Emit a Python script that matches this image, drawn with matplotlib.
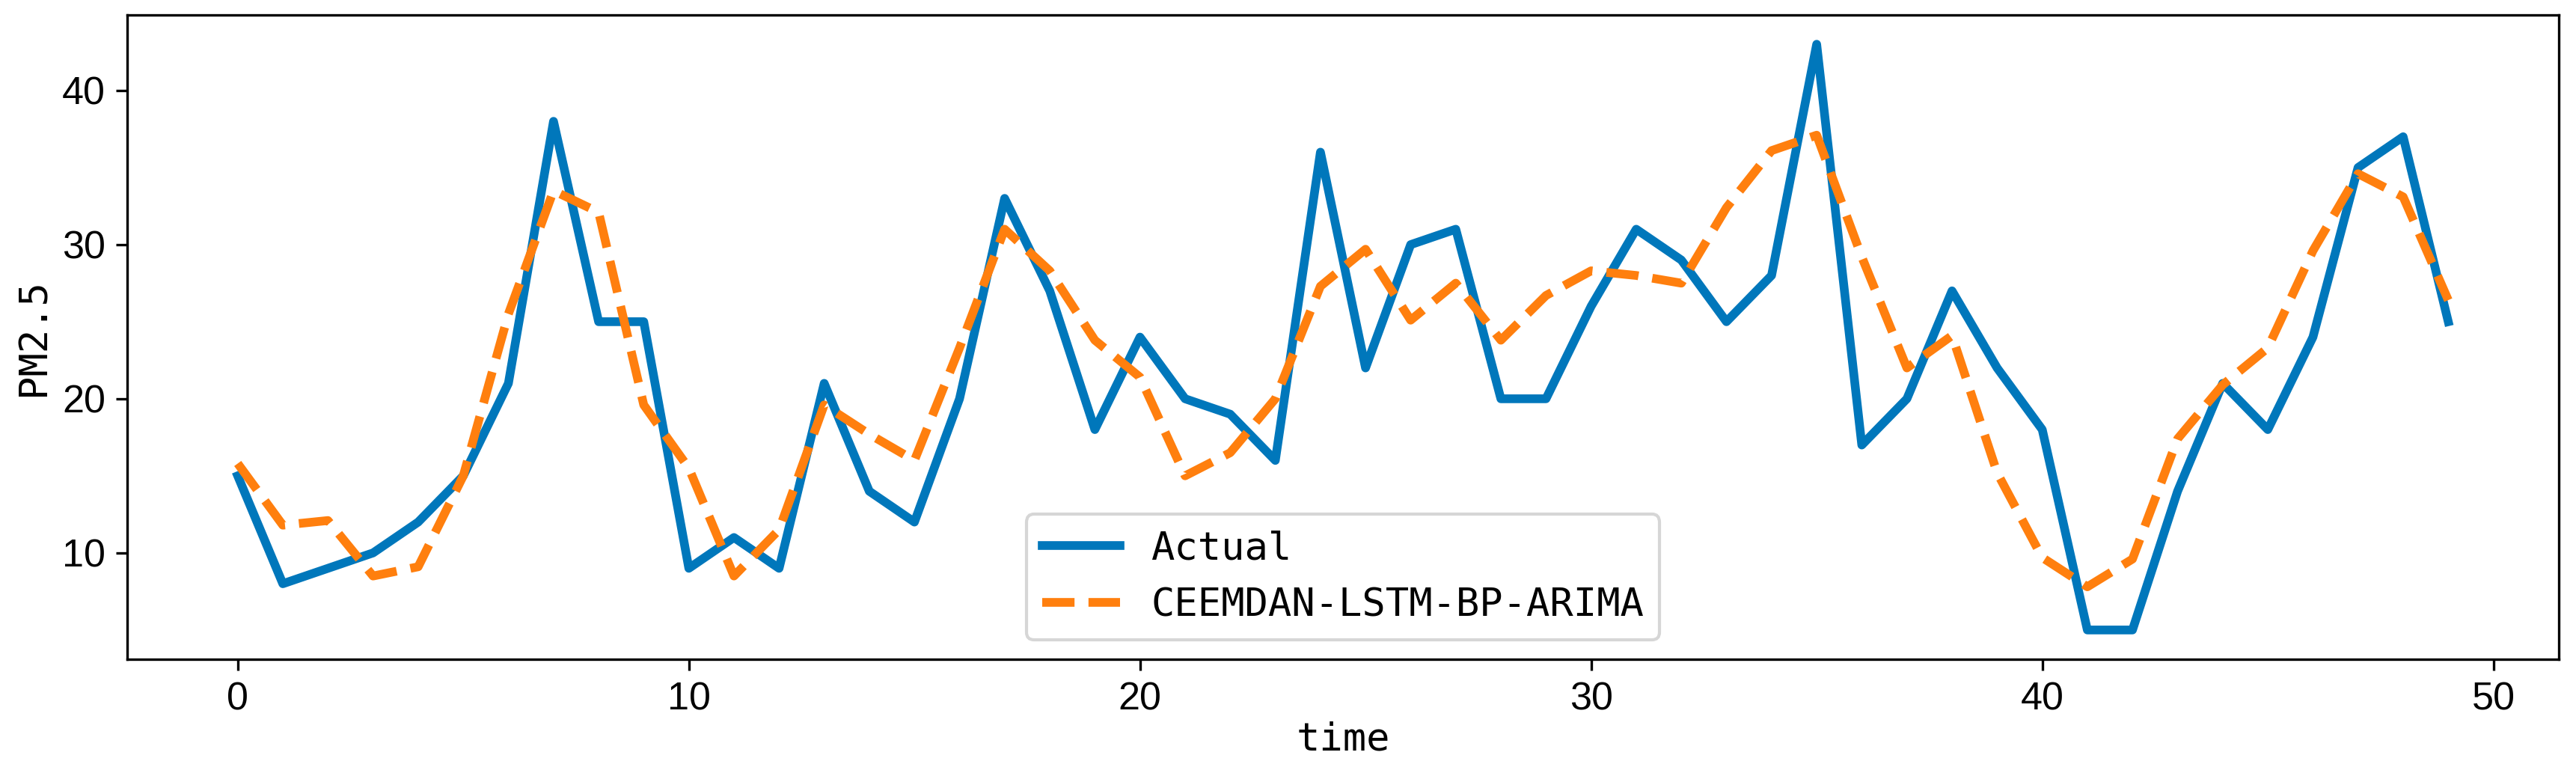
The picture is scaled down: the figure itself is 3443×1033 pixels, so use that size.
import numpy as np
import matplotlib
matplotlib.use("Agg")
import matplotlib.pyplot as plt

# PM2.5 series, 50 time steps
time = list(range(50))
actual = [15, 8, 9, 10, 12, 15, 21, 38, 25, 25,
          9, 11, 9, 21, 14, 12, 20, 33, 27, 18,
          24, 20, 19, 16, 36, 22, 30, 31, 20, 20,
          26, 31, 29, 25, 28, 43, 17, 20, 27, 22,
          18, 5, 5, 14, 21, 18, 24, 35, 37, 25]
predicted = [15.8, 11.8, 12.1, 8.5, 9.1, 15.0, 25.5, 33.5, 32.1, 19.6,
             15.5, 8.5, 11.5, 19.6, 17.7, 16.0, 23.3, 31.0, 28.3, 23.8,
             21.4, 15.0, 16.5, 20.0, 27.3, 29.7, 25.1, 27.5, 23.8, 26.7,
             28.3, 28.0, 27.5, 32.4, 36.1, 37.1, 29.2, 22.0, 24.1, 15.2,
             9.7, 7.8, 9.6, 17.4, 20.9, 23.3, 29.6, 34.6, 33.1, 26.4]
labels = ["Actual", "CEEMDAN-LSTM-BP-ARIMA"]

mono = ["DejaVu Sans Mono"]

fig = plt.figure(figsize=(3443 / 300, 1033 / 300), dpi=300)
ax = fig.add_axes([170 / 3443, 1 - 881 / 1033, 3250 / 3443, 861 / 1033])

ax.plot(time, actual, color="#0077bb", lw=2.8, label=labels[0])
ax.plot(time, predicted, color="#ff7f0e", lw=2.8, ls="--", label=labels[1])

ax.set_xticks([0, 10, 20, 30, 40, 50])
ax.set_yticks([10, 20, 30, 40])
for t in ax.get_xticklabels() + ax.get_yticklabels():
    t.set_family("Liberation Sans")
    t.set_fontsize(12.5)

ax.set_xlabel("time", family=mono, fontsize=12.5, labelpad=1)
ax.set_ylabel("PM2.5", family=mono, fontsize=12.5, labelpad=3)

ax.legend(loc="lower center", prop={"family": mono, "size": 12.5})

fig.savefig("out.png", dpi=300)
